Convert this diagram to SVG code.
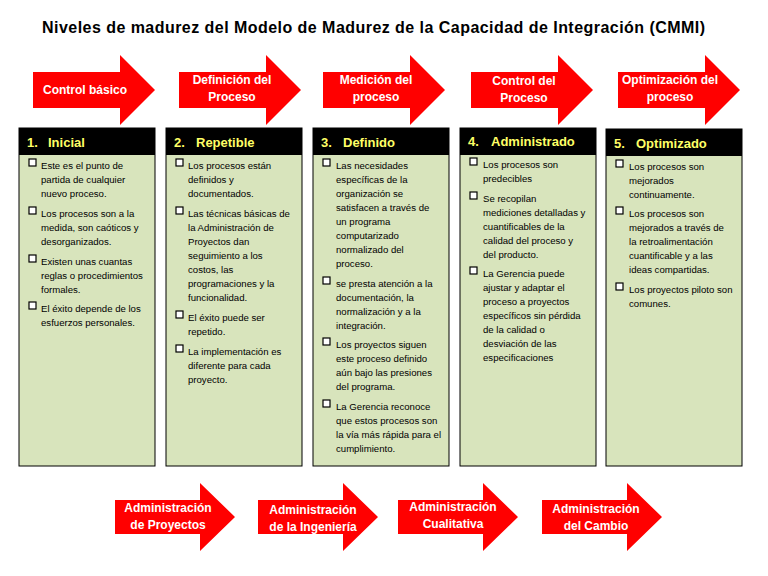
<svg xmlns="http://www.w3.org/2000/svg" width="768" height="576" viewBox="0 0 768 576">
<style>
.t{font-family:"Liberation Sans",Arial,sans-serif;font-weight:bold;font-size:16px;fill:#000}
.a{fill:#ff0000}
.at{font-family:"Liberation Sans",Arial,sans-serif;font-weight:bold;font-size:12px;fill:#fff;text-anchor:middle}
.hd{fill:#000}
.bd{fill:#d8e4bc;stroke:#000;stroke-width:1}
.ht{font-family:"Liberation Sans",Arial,sans-serif;font-weight:bold;font-size:13px;fill:#ffff66}
.b{font-family:"Liberation Sans",Arial,sans-serif;font-size:9.6px;fill:#000}
.cb{fill:#fff;stroke:#000;stroke-width:1.2}
</style>
<defs>
<path id="arrowTop" d="M0,-18 H87 V-35 L122,0 L87,35 V18 H0 Z"/>
<path id="arrowBot" d="M0,-17 H85 V-34 L120,0 L85,34 V17 H0 Z"/>
<rect id="chk" width="7" height="7"/>
</defs>
<rect width="768" height="576" fill="#fff"/>
<text class="t" x="42" y="33" textLength="663">Niveles de madurez del Modelo de Madurez de la Capacidad de Integración (CMMI)</text>

<g id="top-arrows">
<g id="ta1"><use href="#arrowTop" class="a" transform="translate(33,90)"/><text class="at" x="85" y="94">Control básico</text></g>
<g id="ta2"><use href="#arrowTop" class="a" transform="translate(179,90)"/><text class="at" x="232" y="84">Definición del</text><text class="at" x="232" y="101">Proceso</text></g>
<g id="ta3"><use href="#arrowTop" class="a" transform="translate(323,90)"/><text class="at" x="376" y="84">Medición del</text><text class="at" x="376" y="101">proceso</text></g>
<g id="ta4"><use href="#arrowTop" class="a" transform="translate(471,90)"/><text class="at" x="524" y="85">Control del</text><text class="at" x="524" y="102">Proceso</text></g>
<g id="ta5"><use href="#arrowTop" class="a" transform="translate(618,90)"/><text class="at" x="670" y="84">Optimización del</text><text class="at" x="670" y="101">proceso</text></g>
</g>

<g id="box1">
<rect class="bd" x="19" y="128" width="136" height="338"/><rect class="hd" x="19" y="128" width="136" height="27"/>
<text class="ht" x="27" y="147">1.</text><text class="ht" x="48" y="147">Inicial</text>
<use href="#chk" class="cb" x="29" y="159"/>
<text class="b" x="41" y="169">Este es el punto de</text><text class="b" x="41" y="183">partida de cualquier</text><text class="b" x="41" y="197">nuevo proceso.</text>
<use href="#chk" class="cb" x="29" y="207"/>
<text class="b" x="41" y="217">Los procesos son a la</text><text class="b" x="41" y="231">medida, son caóticos y</text><text class="b" x="41" y="245">desorganizados.</text>
<use href="#chk" class="cb" x="29" y="255"/>
<text class="b" x="41" y="265">Existen unas cuantas</text><text class="b" x="41" y="279">reglas o procedimientos</text><text class="b" x="41" y="293">formales.</text>
<use href="#chk" class="cb" x="29" y="302"/>
<text class="b" x="41" y="312">El éxito depende de los</text><text class="b" x="41" y="326">esfuerzos personales.</text>
</g>

<g id="box2">
<rect class="bd" x="166" y="128" width="136" height="338"/><rect class="hd" x="166" y="128" width="136" height="27"/>
<text class="ht" x="174" y="147">2.</text><text class="ht" x="196" y="147">Repetible</text>
<use href="#chk" class="cb" x="176" y="159"/>
<text class="b" x="188" y="169">Los procesos están</text><text class="b" x="188" y="183">definidos y</text><text class="b" x="188" y="197">documentados.</text>
<use href="#chk" class="cb" x="176" y="207"/>
<text class="b" x="188" y="217">Las técnicas básicas de</text><text class="b" x="188" y="231">la Administración de</text><text class="b" x="188" y="245">Proyectos dan</text><text class="b" x="188" y="259">seguimiento a los</text><text class="b" x="188" y="273">costos, las</text><text class="b" x="188" y="287">programaciones y la</text><text class="b" x="188" y="301">funcionalidad.</text>
<use href="#chk" class="cb" x="176" y="311"/>
<text class="b" x="188" y="321">El éxito puede ser</text><text class="b" x="188" y="335">repetido.</text>
<use href="#chk" class="cb" x="176" y="345"/>
<text class="b" x="188" y="355">La implementación es</text><text class="b" x="188" y="369">diferente para cada</text><text class="b" x="188" y="383">proyecto.</text>
</g>

<g id="box3">
<rect class="bd" x="313" y="128" width="136" height="338"/><rect class="hd" x="313" y="128" width="136" height="27"/>
<text class="ht" x="321" y="147">3.</text><text class="ht" x="343" y="147">Definido</text>
<use href="#chk" class="cb" x="323" y="159"/>
<text class="b" x="336" y="169">Las necesidades</text><text class="b" x="336" y="183">específicas de la</text><text class="b" x="336" y="197">organización  se</text><text class="b" x="336" y="211">satisfacen a través de</text><text class="b" x="336" y="225">un programa</text><text class="b" x="336" y="239">computarizado</text><text class="b" x="336" y="253">normalizado del</text><text class="b" x="336" y="267">proceso.</text>
<use href="#chk" class="cb" x="323" y="277"/>
<text class="b" x="336" y="287">se presta atención a la</text><text class="b" x="336" y="301">documentación, la</text><text class="b" x="336" y="315">normalización y a la</text><text class="b" x="336" y="329">integración.</text>
<use href="#chk" class="cb" x="323" y="338"/>
<text class="b" x="336" y="348">Los proyectos siguen</text><text class="b" x="336" y="362">este proceso definido</text><text class="b" x="336" y="376">aún bajo las presiones</text><text class="b" x="336" y="390">del programa.</text>
<use href="#chk" class="cb" x="323" y="400"/>
<text class="b" x="336" y="410">La Gerencia reconoce</text><text class="b" x="336" y="424">que estos procesos son</text><text class="b" x="336" y="438">la vía más rápida para el</text><text class="b" x="336" y="452">cumplimiento.</text>
</g>

<g id="box4">
<rect class="bd" x="460" y="128" width="136" height="338"/><rect class="hd" x="460" y="128" width="136" height="27"/>
<text class="ht" x="468" y="146">4.</text><text class="ht" x="491" y="146">Administrado</text>
<use href="#chk" class="cb" x="470" y="158"/>
<text class="b" x="483" y="168">Los procesos son</text><text class="b" x="483" y="182">predecibles</text>
<use href="#chk" class="cb" x="470" y="192"/>
<text class="b" x="483" y="202">Se recopilan</text><text class="b" x="483" y="216">mediciones detalladas y</text><text class="b" x="483" y="230">cuantificables de la</text><text class="b" x="483" y="244">calidad del proceso y</text><text class="b" x="483" y="258">del producto.</text>
<use href="#chk" class="cb" x="470" y="267"/>
<text class="b" x="483" y="277">La Gerencia puede</text><text class="b" x="483" y="291">ajustar y adaptar el</text><text class="b" x="483" y="305">proceso a proyectos</text><text class="b" x="483" y="319">específicos sin pérdida</text><text class="b" x="483" y="333">de la calidad o</text><text class="b" x="483" y="347">desviación de las</text><text class="b" x="483" y="361">especificaciones</text>
</g>

<g id="box5">
<rect class="bd" x="606" y="129" width="136" height="337"/><rect class="hd" x="606" y="129" width="136" height="27"/>
<text class="ht" x="614" y="148">5.</text><text class="ht" x="636" y="148">Optimizado</text>
<use href="#chk" class="cb" x="616" y="160"/>
<text class="b" x="629" y="170">Los procesos son</text><text class="b" x="629" y="184">mejorados</text><text class="b" x="629" y="198">continuamente.</text>
<use href="#chk" class="cb" x="616" y="207"/>
<text class="b" x="629" y="217">Los procesos son</text><text class="b" x="629" y="231">mejorados a través de</text><text class="b" x="629" y="245">la retroalimentación</text><text class="b" x="629" y="259">cuantificable y a las</text><text class="b" x="629" y="273">ideas compartidas.</text>
<use href="#chk" class="cb" x="616" y="283"/>
<text class="b" x="629" y="293">Los proyectos piloto son</text><text class="b" x="629" y="307">comunes.</text>
</g>

<g id="bottom-arrows">
<g id="ba1"><use href="#arrowBot" class="a" transform="translate(115,517)"/><text class="at" x="168" y="512">Administración</text><text class="at" x="168" y="529">de Proyectos</text></g>
<g id="ba2"><use href="#arrowBot" class="a" transform="translate(258,517)"/><text class="at" x="313" y="514">Administración</text><text class="at" x="313" y="531">de la Ingeniería</text></g>
<g id="ba3"><use href="#arrowBot" class="a" transform="translate(398,517)"/><text class="at" x="453" y="511">Administración</text><text class="at" x="453" y="528">Cualitativa</text></g>
<g id="ba4"><use href="#arrowBot" class="a" transform="translate(542,517)"/><text class="at" x="596" y="513">Administración</text><text class="at" x="596" y="530">del Cambio</text></g>
</g>
</svg>
